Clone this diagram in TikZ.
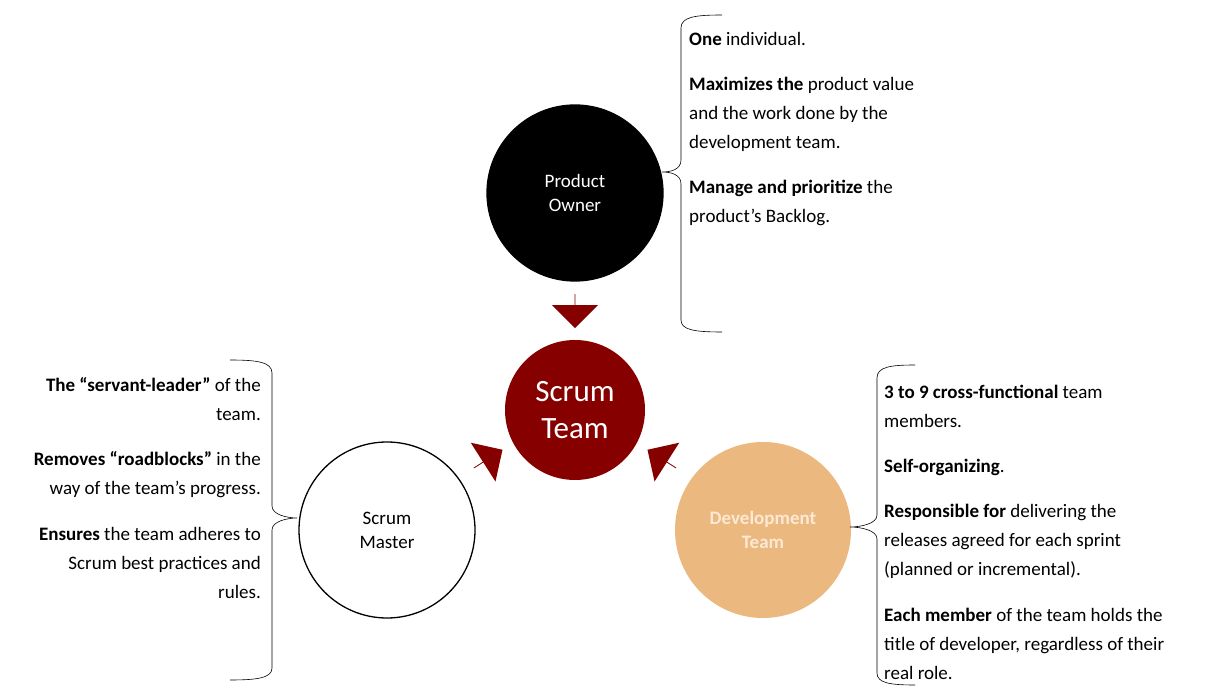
\documentclass[tikz,border=0pt]{standalone}
\usepackage{fontspec}
\setmainfont{Carlito}
\usetikzlibrary{shapes.arrows}
\definecolor{dred}{RGB}{134,0,0}
\definecolor{tan}{RGB}{235,185,128}
\definecolor{cream}{RGB}{252,232,212}
\begin{document}
\begin{tikzpicture}[x=1pt,y=-1pt,
  txt/.style={inner sep=0,font=\fontsize{19}{24}\selectfont},
  circ/.style={circle,minimum size=176,inner sep=0,align=center,draw=black,line width=1.3pt},
  arr/.style={single arrow,fill=dred,draw=none,minimum width=46,minimum height=34,single arrow head extend=11,inner sep=0},
  brace/.style={draw=black,line width=0.6pt}]
\useasboundingbox (0,0) rectangle (1219,692);
\node[circ,fill=black,text=white,txt] (po) at (575,193) {Product\\Owner};
\node[circle,fill=dred,minimum size=140,inner sep=0,align=center,text=white,font=\fontsize{31}{37}\selectfont] (st) at (575,410) {Scrum\\Team};
\node[circ,fill=white,txt] (sm) at (387,530) {Scrum\\Master};
\node[circ,fill=tan,draw=none,text=cream,txt,font=\bfseries\fontsize{19}{24}\selectfont] (dt) at (763,530) {Development\\Team};
\node[arr,rotate=-90] (a1) at (575,311) {};
\node[arr,rotate=32.5] (a2) at (488,459) {};
\node[arr,rotate=147.5] (a3) at (662,459) {};
% braces
\draw[brace] (722,15) .. controls (695,15) and (681,17) .. (681,28) -- (681,160) .. controls (681,170) and (670,172) .. (662,172)
  .. controls (670,172) and (681,174) .. (681,184) -- (681,320) .. controls (681,330) and (695,332) .. (722,332);
\draw[brace] (230,360) .. controls (257,360) and (272,362) .. (272,373) -- (272,506) .. controls (272,515) and (288,518) .. (297,518)
  .. controls (288,518) and (272,521) .. (272,530) -- (272,668) .. controls (272,678) and (257,680) .. (230,680);
\draw[brace] (915,365) .. controls (890,365) and (877,367) .. (877,378) -- (877,515) .. controls (877,524) and (860,527) .. (850,527)
  .. controls (860,527) and (877,530) .. (877,539) -- (877,673) .. controls (877,683) and (890,685) .. (915,685);
% PO text
\node[txt,anchor=base west] (p1) at (689,46) {\textbf{One} individual.};
\node[txt,anchor=base west] (p2) at (689,91) {\textbf{Maximizes the} product value};
\node[txt,anchor=base west] (p3) at (689,120) {and the work done by the};
\node[txt,anchor=base west] (p4) at (689,149) {development team.};
\node[txt,anchor=base west] (p5) at (689,194) {\textbf{Manage and prioritize} the};
\node[txt,anchor=base west] (p6) at (689,223) {product’s Backlog.};
% SM text
\node[txt,anchor=base east] (s1) at (261,392) {\textbf{The “servant-leader”} of the};
\node[txt,anchor=base east] (s2) at (261,421) {team.};
\node[txt,anchor=base east] (s3) at (261,466) {\textbf{Removes “roadblocks”} in the};
\node[txt,anchor=base east] (s4) at (261,495) {way of the team’s progress.};
\node[txt,anchor=base east] (s5) at (261,540) {\textbf{Ensures} the team adheres to};
\node[txt,anchor=base east] (s6) at (261,569) {Scrum best practices and};
\node[txt,anchor=base east] (s7) at (261,598) {rules.};
% DT text
\node[txt,anchor=base west] (d1) at (884,399) {\textbf{3 to 9 cross-functional} team};
\node[txt,anchor=base west] (d2) at (884,428) {members.};
\node[txt,anchor=base west] (d3) at (884,473) {\textbf{Self-organizing}.};
\node[txt,anchor=base west] (d4) at (884,518) {\textbf{Responsible for} delivering the};
\node[txt,anchor=base west] (d5) at (884,547) {releases agreed for each sprint};
\node[txt,anchor=base west] (d6) at (884,576) {(planned or incremental).};
\node[txt,anchor=base west] (d7) at (884,621) {\textbf{Each member} of the team holds the};
\node[txt,anchor=base west] (d8) at (884,650) {title of developer, regardless of their};
\node[txt,anchor=base west] (d9) at (884,679) {real role.};
\end{tikzpicture}
\end{document}
